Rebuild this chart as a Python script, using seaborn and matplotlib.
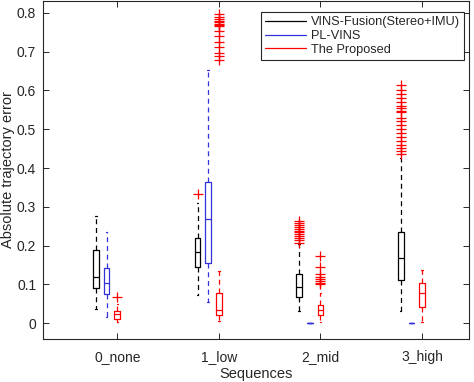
import matplotlib
matplotlib.use("Agg")
import matplotlib.pyplot as plt
import seaborn as sns

sequences = ["0_none", "1_low", "2_mid", "3_high"]
methods = ["VINS-Fusion(Stereo+IMU)", "PL-VINS", "The Proposed"]

# box stats: whislo, q1, median, q3, whishi
vins_lo = [0.036, 0.072, 0.032, 0.032]
vins_q1 = [0.091, 0.145, 0.068, 0.111]
vins_med = [0.120, 0.183, 0.094, 0.168]
vins_q3 = [0.188, 0.220, 0.127, 0.235]
vins_hi = [0.277, 0.310, 0.205, 0.425]

pl_lo = [0.017, 0.055, 0.0, 0.0]
pl_q1 = [0.075, 0.156, 0.0, 0.0]
pl_med = [0.105, 0.270, 0.0, 0.0]
pl_q3 = [0.142, 0.363, 0.0, 0.0]
pl_hi = [0.235, 0.653, 0.0, 0.0]

ours_lo = [0.003, 0.006, 0.003, 0.003]
ours_q1 = [0.012, 0.021, 0.021, 0.043]
ours_med = [0.023, 0.034, 0.034, 0.079]
ours_q3 = [0.032, 0.079, 0.048, 0.103]
ours_hi = [0.051, 0.134, 0.078, 0.137]

# outliers
vins_out = [
    [],
    [0.332],
    [0.208, 0.214, 0.219, 0.224, 0.229, 0.234, 0.239, 0.244, 0.249, 0.254, 0.258, 0.263],
    [0.435, 0.445, 0.452, 0.46, 0.47, 0.48, 0.49, 0.50, 0.51, 0.52, 0.53, 0.545, 0.548,
     0.555, 0.56, 0.57, 0.58, 0.59, 0.60, 0.615],
]
pl_out = [[], [], [], []]
ours_out = [
    [0.067],
    [0.679, 0.688, 0.696, 0.713, 0.726, 0.739, 0.752, 0.765, 0.768, 0.772, 0.776,
     0.780, 0.785, 0.790, 0.797],
    [0.100, 0.105, 0.110, 0.115, 0.120, 0.126, 0.146, 0.173],
    [],
]

colors = ["black", "#3333dd", "red"]
offsets = [-0.21, -0.105, 0.0]

sns.set_style("ticks")
plt.rcParams["font.family"] = ["Liberation Sans", "DejaVu Sans"]

fig = plt.figure(figsize=(4.74, 3.82), dpi=100)
ax = fig.add_axes([0.091, 0.113, 0.898, 0.884])

all_stats = [
    (vins_lo, vins_q1, vins_med, vins_q3, vins_hi, vins_out),
    (pl_lo, pl_q1, pl_med, pl_q3, pl_hi, pl_out),
    (ours_lo, ours_q1, ours_med, ours_q3, ours_hi, ours_out),
]

for m, (lo, q1, med, q3, hi, out) in enumerate(all_stats):
    stats = []
    for i in range(len(sequences)):
        stats.append(dict(whislo=lo[i], q1=q1[i], med=med[i], q3=q3[i],
                          whishi=hi[i], fliers=out[i]))
    pos = [i + 1 + offsets[m] for i in range(len(sequences))]
    c = colors[m]
    ax.bxp(stats, positions=pos, widths=0.055, showfliers=True,
           boxprops=dict(color=c, lw=0.9),
           medianprops=dict(color=c, lw=0.9),
           whiskerprops=dict(color=c, lw=0.9, ls=(0, (4, 3))),
           capprops=dict(color=c, lw=0.9),
           capwidths=0.015,
           flierprops=dict(marker="+", markeredgecolor="red", markersize=6.5,
                           markeredgewidth=0.9, linestyle="none"),
           manage_ticks=False)
    ax.plot([], [], color=c, lw=0.9, label=methods[m])

ax.set_xlim(0.27, 4.46)
ax.set_ylim(-0.04, 0.83)
ax.set_xticks(range(1, len(sequences) + 1))
ax.set_xticklabels(sequences)
ax.set_yticks([0, 0.1, 0.2, 0.3, 0.4, 0.5, 0.6, 0.7, 0.8])
ax.set_yticklabels(["0", "0.1", "0.2", "0.3", "0.4", "0.5", "0.6", "0.7", "0.8"])
ax.tick_params(direction="in", top=True, right=True, labelsize=10,
               color="#262626", length=4, width=0.7)
ax.tick_params(axis="x", pad=8)
ax.tick_params(axis="y", pad=5)
for s in ax.spines.values():
    s.set_color("#262626")
    s.set_linewidth(0.8)
ax.set_xlabel("Sequences", fontsize=10.5, labelpad=2)
ax.set_ylabel("Absolute trajectory error", fontsize=10.5, labelpad=1)

leg = ax.legend(loc="upper right", bbox_to_anchor=(0.988, 0.967), borderaxespad=0,
                fontsize=9.2, fancybox=False, framealpha=1, edgecolor="#262626",
                handlelength=3.2, handletextpad=0.4, labelspacing=0.15,
                borderpad=0.3)
leg.get_frame().set_linewidth(0.8)

fig.savefig("out.png", dpi=100)
